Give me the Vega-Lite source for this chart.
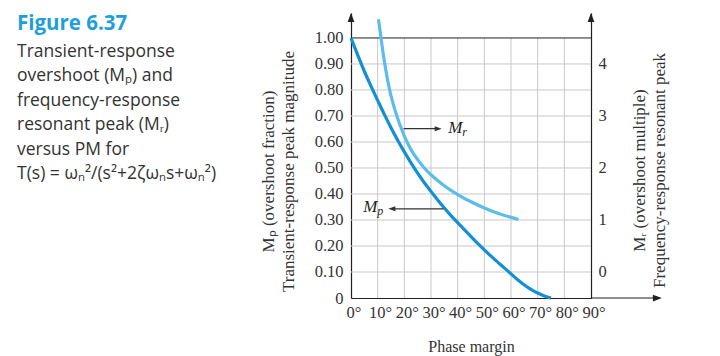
{
  "$schema": "https://vega.github.io/schema/vega-lite/v6.json",
  "width": 240,
  "height": 285,
  "autosize": {"type": "none"},
  "padding": {"left": 351, "top": 13, "right": 129, "bottom": 58},
  "background": "white",
  "config": {
    "view": {"stroke": null},
    "font": "Liberation Serif",
    "axis": {
      "ticks": false, "grid": false, "domainColor": "#231f20", "domainWidth": 1.2,
      "labelFont": "Liberation Serif", "labelFontSize": 16.5, "labelColor": "#333333",
      "labelFlush": false, "labelOverlap": false,
      "titleFont": "Liberation Serif", "titleFontSize": 17, "titleFontWeight": "normal",
      "titleColor": "#333333", "titleLineHeight": 20
    },
    "axisX": {"labelPadding": 6, "labelOffset": 2.5, "titlePadding": 18, "titleFontSize": 16},
    "axisLeft": {"labelPadding": 8, "titlePadding": 17},
    "axisRight": {"labelPadding": 7, "titlePadding": 5}
  },
  "title": {
    "text": "Figure 6.37",
    "subtitle": ["Transient-response", "overshoot (Mₚ) and", "frequency-response", "resonant peak (Mᵣ)", "versus PM for", "T(s) = ωₙ²/(s²+2ζωₙs+ωₙ²)"],
    "anchor": "start",
    "frame": "group",
    "orient": "top",
    "dx": -334,
    "dy": 170,
    "offset": 0,
    "font": "Open Sans",
    "fontSize": 20.5,
    "fontWeight": "bold",
    "color": "#1e9fdc",
    "subtitleFont": "Open Sans",
    "subtitleFontSize": 17.5,
    "subtitleColor": "#333333",
    "subtitleLineHeight": 24.5,
    "subtitlePadding": 8
  },
  "datasets": {
    "mp": [
      {"pm": 0, "mp": 1.0}, {"pm": 2.5, "mp": 0.935}, {"pm": 5, "mp": 0.872}, {"pm": 7.5, "mp": 0.815},
      {"pm": 10, "mp": 0.76}, {"pm": 12.5, "mp": 0.706}, {"pm": 15, "mp": 0.655}, {"pm": 17.5, "mp": 0.607},
      {"pm": 20, "mp": 0.562}, {"pm": 22.5, "mp": 0.52}, {"pm": 25, "mp": 0.48}, {"pm": 27.5, "mp": 0.443},
      {"pm": 30, "mp": 0.41}, {"pm": 32.5, "mp": 0.377}, {"pm": 35, "mp": 0.346}, {"pm": 37.5, "mp": 0.317},
      {"pm": 40, "mp": 0.29}, {"pm": 42.5, "mp": 0.263}, {"pm": 45, "mp": 0.236}, {"pm": 47.5, "mp": 0.21},
      {"pm": 50, "mp": 0.185}, {"pm": 52.5, "mp": 0.161}, {"pm": 55, "mp": 0.138}, {"pm": 57.5, "mp": 0.116},
      {"pm": 60, "mp": 0.093}, {"pm": 62.5, "mp": 0.07}, {"pm": 65, "mp": 0.05}, {"pm": 67.5, "mp": 0.033},
      {"pm": 70, "mp": 0.019}, {"pm": 72.5, "mp": 0.008}, {"pm": 75, "mp": 0.0}
    ],
    "mr": [
      {"pm": 10.3, "mr": 4.86}, {"pm": 11.0, "mr": 4.6}, {"pm": 12.0, "mr": 4.22}, {"pm": 13.0, "mr": 3.9},
      {"pm": 14.5, "mr": 3.5}, {"pm": 16.0, "mr": 3.2}, {"pm": 17.5, "mr": 2.95}, {"pm": 19.0, "mr": 2.74},
      {"pm": 21.0, "mr": 2.5}, {"pm": 23.0, "mr": 2.31}, {"pm": 25.0, "mr": 2.16}, {"pm": 27.5, "mr": 2.0},
      {"pm": 30.0, "mr": 1.87}, {"pm": 32.5, "mr": 1.76}, {"pm": 35.0, "mr": 1.66}, {"pm": 37.5, "mr": 1.57},
      {"pm": 40.0, "mr": 1.49}, {"pm": 45.0, "mr": 1.35}, {"pm": 50.0, "mr": 1.23}, {"pm": 55.0, "mr": 1.13},
      {"pm": 60.0, "mr": 1.05}, {"pm": 62.8, "mr": 1.01}
    ],
    "vgrid": [{"pm": 10}, {"pm": 20}, {"pm": 30}, {"pm": 40}, {"pm": 50}, {"pm": 60}, {"pm": 70}, {"pm": 80}],
    "hgrid": [{"v": 0.1}, {"v": 0.2}, {"v": 0.3}, {"v": 0.4}, {"v": 0.5}, {"v": 0.6}, {"v": 0.7}, {"v": 0.8}, {"v": 0.9}, {"v": 1.0}],
    "shafts": [{"x1": 19.7, "x2": 32.7, "v": 0.651}, {"x1": 15.3, "x2": 34.7, "v": 0.343}],
    "labels": [{"pm": 36.5, "v": 0.633, "main": "M", "sub": "r"}, {"pm": 4.6, "v": 0.331, "main": "M", "sub": "p"}]
  },
  "layer": [
    {
      "layer": [
        {
          "data": {"name": "vgrid"},
          "mark": {"type": "rule", "color": "#c8c8c8", "strokeWidth": 1},
          "encoding": {
            "x": {"field": "pm", "type": "quantitative", "scale": {"domain": [0, 90], "nice": false, "zero": false},
              "axis": {"orient": "bottom", "values": [0, 10, 20, 30, 40, 50, 60, 70, 80, 90], "labelExpr": "datum.value + '°'", "title": "Phase margin"}},
            "y": {"datum": 0, "type": "quantitative", "scale": {"domain": [0, 1.096], "nice": false, "zero": false},
              "axis": {"orient": "left", "values": [0, 0.1, 0.2, 0.3, 0.4, 0.5, 0.6, 0.7, 0.8, 0.9, 1], "labelExpr": "datum.value == 0 ? '0' : format(datum.value, '.2f')", "title": ["Mₚ (overshoot fraction)", "Transient-response peak magnitude"], "titleY": 158}},
            "y2": {"datum": 1}
          }
        },
        {
          "data": {"name": "hgrid"},
          "mark": {"type": "rule", "strokeWidth": 1},
          "encoding": {
            "x": {"datum": 0, "type": "quantitative",
              "axis": {"orient": "bottom", "values": [0, 10, 20, 30, 40, 50, 60, 70, 80, 90], "labelExpr": "datum.value + '°'", "title": "Phase margin"}},
            "x2": {"datum": 90},
            "y": {"field": "v", "type": "quantitative",
              "axis": {"orient": "left", "values": [0, 0.1, 0.2, 0.3, 0.4, 0.5, 0.6, 0.7, 0.8, 0.9, 1], "labelExpr": "datum.value == 0 ? '0' : format(datum.value, '.2f')", "title": ["Mₚ (overshoot fraction)", "Transient-response peak magnitude"], "titleY": 158}},
            "color": {"condition": {"test": "datum.v >= 1", "value": "#231f20"}, "value": "#c8c8c8"}
          }
        },
        {
          "data": {"values": [{"pm": 90, "tip": 114.9, "v": 0}]},
          "mark": {"type": "rule", "color": "#231f20", "strokeWidth": 1.2},
          "encoding": {
            "x": {"field": "pm", "type": "quantitative",
              "axis": {"orient": "bottom", "values": [0, 10, 20, 30, 40, 50, 60, 70, 80, 90], "labelExpr": "datum.value + '°'", "title": "Phase margin"}},
            "x2": {"field": "tip"},
            "y": {"field": "v", "type": "quantitative",
              "axis": {"orient": "left", "values": [0, 0.1, 0.2, 0.3, 0.4, 0.5, 0.6, 0.7, 0.8, 0.9, 1], "labelExpr": "datum.value == 0 ? '0' : format(datum.value, '.2f')", "title": ["Mₚ (overshoot fraction)", "Transient-response peak magnitude"], "titleY": 158}}
          }
        },
        {
          "data": {"values": [{"pm": 0, "v": 1.079}, {"pm": 90, "v": 1.079}]},
          "mark": {"type": "point", "shape": "M0,-1L-0.75,1L0.75,1Z", "filled": true, "color": "#231f20", "size": 81, "opacity": 1},
          "encoding": {
            "x": {"field": "pm", "type": "quantitative",
              "axis": {"orient": "bottom", "values": [0, 10, 20, 30, 40, 50, 60, 70, 80, 90], "labelExpr": "datum.value + '°'", "title": "Phase margin"}},
            "y": {"field": "v", "type": "quantitative",
              "axis": {"orient": "left", "values": [0, 0.1, 0.2, 0.3, 0.4, 0.5, 0.6, 0.7, 0.8, 0.9, 1], "labelExpr": "datum.value == 0 ? '0' : format(datum.value, '.2f')", "title": ["Mₚ (overshoot fraction)", "Transient-response peak magnitude"], "titleY": 158}}
          }
        },
        {
          "data": {"values": [{"pm": 114.9, "v": 0}]},
          "mark": {"type": "point", "shape": "M1,0L-1,-0.75L-1,0.75Z", "filled": true, "color": "#231f20", "size": 81, "opacity": 1},
          "encoding": {
            "x": {"field": "pm", "type": "quantitative",
              "axis": {"orient": "bottom", "values": [0, 10, 20, 30, 40, 50, 60, 70, 80, 90], "labelExpr": "datum.value + '°'", "title": "Phase margin"}},
            "y": {"field": "v", "type": "quantitative",
              "axis": {"orient": "left", "values": [0, 0.1, 0.2, 0.3, 0.4, 0.5, 0.6, 0.7, 0.8, 0.9, 1], "labelExpr": "datum.value == 0 ? '0' : format(datum.value, '.2f')", "title": ["Mₚ (overshoot fraction)", "Transient-response peak magnitude"], "titleY": 158}}
          }
        },
        {
          "data": {"name": "mp"},
          "mark": {"type": "line", "color": "#138fd3", "strokeWidth": 3.2, "interpolate": "monotone"},
          "encoding": {
            "x": {"field": "pm", "type": "quantitative",
              "axis": {"orient": "bottom", "values": [0, 10, 20, 30, 40, 50, 60, 70, 80, 90], "labelExpr": "datum.value + '°'", "title": "Phase margin"}},
            "y": {"field": "mp", "type": "quantitative",
              "axis": {"orient": "left", "values": [0, 0.1, 0.2, 0.3, 0.4, 0.5, 0.6, 0.7, 0.8, 0.9, 1], "labelExpr": "datum.value == 0 ? '0' : format(datum.value, '.2f')", "title": ["Mₚ (overshoot fraction)", "Transient-response peak magnitude"], "titleY": 158}}
          }
        },
        {
          "data": {"name": "shafts"},
          "mark": {"type": "rule", "color": "#333333", "strokeWidth": 1.2},
          "encoding": {
            "x": {"field": "x1", "type": "quantitative",
              "axis": {"orient": "bottom", "values": [0, 10, 20, 30, 40, 50, 60, 70, 80, 90], "labelExpr": "datum.value + '°'", "title": "Phase margin"}},
            "x2": {"field": "x2"},
            "y": {"field": "v", "type": "quantitative",
              "axis": {"orient": "left", "values": [0, 0.1, 0.2, 0.3, 0.4, 0.5, 0.6, 0.7, 0.8, 0.9, 1], "labelExpr": "datum.value == 0 ? '0' : format(datum.value, '.2f')", "title": ["Mₚ (overshoot fraction)", "Transient-response peak magnitude"], "titleY": 158}}
          }
        },
        {
          "data": {"values": [{"pm": 32.7, "v": 0.651}]},
          "mark": {"type": "point", "shape": "M1,0L-1,-0.7L-1,0.7Z", "filled": true, "color": "#333333", "size": 49, "opacity": 1},
          "encoding": {
            "x": {"field": "pm", "type": "quantitative",
              "axis": {"orient": "bottom", "values": [0, 10, 20, 30, 40, 50, 60, 70, 80, 90], "labelExpr": "datum.value + '°'", "title": "Phase margin"}},
            "y": {"field": "v", "type": "quantitative",
              "axis": {"orient": "left", "values": [0, 0.1, 0.2, 0.3, 0.4, 0.5, 0.6, 0.7, 0.8, 0.9, 1], "labelExpr": "datum.value == 0 ? '0' : format(datum.value, '.2f')", "title": ["Mₚ (overshoot fraction)", "Transient-response peak magnitude"], "titleY": 158}}
          }
        },
        {
          "data": {"values": [{"pm": 15.3, "v": 0.343}]},
          "mark": {"type": "point", "shape": "M-1,0L1,-0.7L1,0.7Z", "filled": true, "color": "#333333", "size": 49, "opacity": 1},
          "encoding": {
            "x": {"field": "pm", "type": "quantitative",
              "axis": {"orient": "bottom", "values": [0, 10, 20, 30, 40, 50, 60, 70, 80, 90], "labelExpr": "datum.value + '°'", "title": "Phase margin"}},
            "y": {"field": "v", "type": "quantitative",
              "axis": {"orient": "left", "values": [0, 0.1, 0.2, 0.3, 0.4, 0.5, 0.6, 0.7, 0.8, 0.9, 1], "labelExpr": "datum.value == 0 ? '0' : format(datum.value, '.2f')", "title": ["Mₚ (overshoot fraction)", "Transient-response peak magnitude"], "titleY": 158}}
          }
        },
        {
          "data": {"name": "labels"},
          "mark": {"type": "text", "font": "Liberation Serif", "fontStyle": "italic", "fontSize": 17, "align": "left", "baseline": "alphabetic", "color": "#231f20"},
          "encoding": {
            "x": {"field": "pm", "type": "quantitative",
              "axis": {"orient": "bottom", "values": [0, 10, 20, 30, 40, 50, 60, 70, 80, 90], "labelExpr": "datum.value + '°'", "title": "Phase margin"}},
            "y": {"field": "v", "type": "quantitative",
              "axis": {"orient": "left", "values": [0, 0.1, 0.2, 0.3, 0.4, 0.5, 0.6, 0.7, 0.8, 0.9, 1], "labelExpr": "datum.value == 0 ? '0' : format(datum.value, '.2f')", "title": ["Mₚ (overshoot fraction)", "Transient-response peak magnitude"], "titleY": 158}},
            "text": {"field": "main"}
          }
        },
        {
          "data": {"name": "labels"},
          "mark": {"type": "text", "font": "Liberation Serif", "fontStyle": "italic", "fontSize": 12, "align": "left", "baseline": "alphabetic", "dx": 14, "dy": 3, "color": "#231f20"},
          "encoding": {
            "x": {"field": "pm", "type": "quantitative",
              "axis": {"orient": "bottom", "values": [0, 10, 20, 30, 40, 50, 60, 70, 80, 90], "labelExpr": "datum.value + '°'", "title": "Phase margin"}},
            "y": {"field": "v", "type": "quantitative",
              "axis": {"orient": "left", "values": [0, 0.1, 0.2, 0.3, 0.4, 0.5, 0.6, 0.7, 0.8, 0.9, 1], "labelExpr": "datum.value == 0 ? '0' : format(datum.value, '.2f')", "title": ["Mₚ (overshoot fraction)", "Transient-response peak magnitude"], "titleY": 158}},
            "text": {"field": "sub"}
          }
        }
      ]
    },
    {
      "data": {"name": "mr"},
      "mark": {"type": "line", "color": "#5bbde8", "strokeWidth": 3.2, "interpolate": "monotone"},
      "encoding": {
        "x": {"field": "pm", "type": "quantitative",
          "axis": {"orient": "bottom", "values": [0, 10, 20, 30, 40, 50, 60, 70, 80, 90], "labelExpr": "datum.value + '°'", "title": "Phase margin"}},
        "y": {
          "field": "mr", "type": "quantitative",
          "scale": {"domain": [-0.5, 4.98], "nice": false, "zero": false},
          "axis": {
            "orient": "right", "values": [0, 1, 2, 3, 4],
            "title": ["Mᵣ (overshoot multiple)", "Frequency-response resonant peak"],
            "titleAngle": -90, "titleBaseline": "top", "titleY": 157
          }
        }
      }
    }
  ],
  "resolve": {"scale": {"y": "independent"}}
}
